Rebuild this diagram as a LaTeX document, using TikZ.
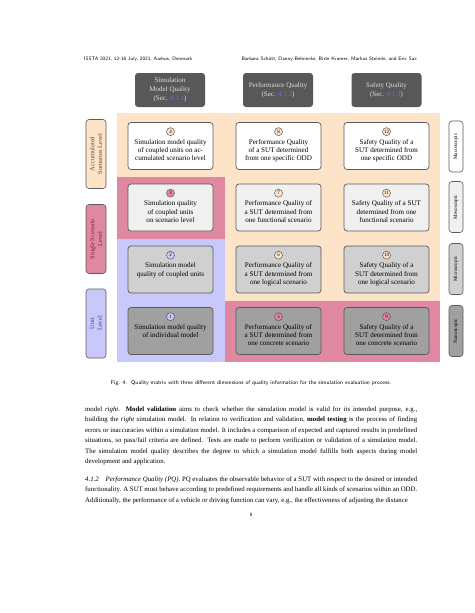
\documentclass[tikz,border=0pt]{standalone}
\usepackage{amsmath, amssymb}
\usepackage{fontspec}
\setmainfont{Liberation Serif}
\usepackage{tikz}

\definecolor{peach}{RGB}{253,228,201}
\definecolor{rose}{RGB}{224,136,162}
\definecolor{lilac}{RGB}{200,200,250}
\definecolor{headgray}{RGB}{88,88,88}
\definecolor{edgegray}{RGB}{90,90,90}
\definecolor{grayA}{RGB}{240,240,240}
\definecolor{grayB}{RGB}{208,208,208}
\definecolor{grayC}{RGB}{160,160,160}
\definecolor{linkpurple}{RGB}{150,95,200}
\definecolor{peachtext}{RGB}{100,70,50}
\definecolor{rosetext}{RGB}{125,30,60}
\definecolor{lilactext}{RGB}{60,60,170}

\begin{document}
\begin{tikzpicture}[x=1pt,y=-1pt,
  every node/.style={inner sep=0pt},
  cell/.style={draw=edgegray, line width=0.7pt, rounded corners=3pt, minimum width=85pt, minimum height=47pt},
  num/.style={circle, draw=edgegray, line width=0.5pt, minimum size=8pt, font=\fontsize{5}{5}\selectfont},
  txt/.style={anchor=north, align=center, font=\fontsize{7.1}{8.3}\selectfont},
  head/.style={fill=headgray, rounded corners=3pt, minimum width=70pt, minimum height=34pt, text=white!88!black, align=center, font=\fontsize{7}{9}\selectfont},
  rowlevel/.style={draw=edgegray, line width=0.6pt, rounded corners=3pt, minimum width=69pt, minimum height=20pt, rotate=90, align=center, font=\fontsize{6.4}{7.8}\selectfont},
  scopic/.style={draw=edgegray, line width=0.6pt, rounded corners=3pt, minimum width=51pt, minimum height=14pt, rotate=90, font=\fontsize{5.1}{6}\selectfont}]
\useasboundingbox (0,0) rectangle (474,613);

% page head
\node[anchor=west, font=\sffamily\fontsize{5}{6}\selectfont] (HL) at (84,59) {ISSTA 2021, 12-16 July, 2021, Aarhus, Denmark};
\node[anchor=east, font=\sffamily\fontsize{5}{6}\selectfont] (HR) at (417,59) {Barbara Schütt, Danny Behnecke, Birte Kramer, Markus Steimle, and Eric Sax};

% background regions
\fill[peach] (117,113) rectangle (440,362);
\fill[rose] (117,177) rectangle (224.5,238.5);
\fill[rose] (224.5,300.5) rectangle (440,362);
\fill[lilac] (117,238.5) rectangle (224.5,362);

% column heads
\node[head] (H1) at (170,90) {Simulation\\Model Quality\\(Sec. \textcolor{linkpurple}{4.1.1})};
\node[head] (H2) at (278,90) {Performance Quality\\(Sec. \textcolor{linkpurple}{4.1.2})};
\node[head] (H3) at (386.5,90) {Safety Quality\\(Sec. \textcolor{linkpurple}{4.1.3})};

% row levels
\node[rowlevel, fill=peach, text=peachtext] (L3) at (96,154) {Accumulated\\Scenarios Level};
\node[rowlevel, fill=rose, text=rosetext] (L2) at (96,239) {Single Scenario\\Level};
\node[rowlevel, fill=lilac, text=lilactext] (L1) at (96,323.5) {Unit\\Level};

\node[scopic, fill=white] (S4) at (456,146.5) {Macroscopic};
\node[scopic, fill=grayA] (S3) at (456,207) {Mesoscopic};
\node[scopic, fill=grayB] (S2) at (456,269) {Microscopic};
\node[scopic, fill=grayC] (S1) at (456,331) {Nanoscopic};

% quality cells
\node[cell, fill=white] (Q4) at (170.5,146) {};
\node[cell, fill=white] (Q8) at (278.5,146) {};
\node[cell, fill=white] (Q12) at (386.5,146) {};
\node[cell, fill=grayA] (Q3) at (170.5,207.5) {};
\node[cell, fill=grayA] (Q7) at (278.5,207.5) {};
\node[cell, fill=grayA] (Q11) at (386.5,207.5) {};
\node[cell, fill=grayB] (Q2) at (170.5,269.5) {};
\node[cell, fill=grayB] (Q6) at (278.5,269.5) {};
\node[cell, fill=grayB] (Q10) at (386.5,269.5) {};
\node[cell, fill=grayC] (Q1) at (170.5,331) {};
\node[cell, fill=grayC] (Q5) at (278.5,331) {};
\node[cell, fill=grayC] (Q9) at (386.5,331) {};

\node[num, fill=peach] (N4) at ([yshift=-9.5pt]Q4.north) {4};
\node[num, fill=peach] (N8) at ([yshift=-9.5pt]Q8.north) {8};
\node[num, fill=peach] (N12) at ([yshift=-9.5pt]Q12.north) {12};
\node[num, fill=rose] (N3) at ([yshift=-9.5pt]Q3.north) {3};
\node[num, fill=peach] (N7) at ([yshift=-9.5pt]Q7.north) {7};
\node[num, fill=peach] (N11) at ([yshift=-9.5pt]Q11.north) {11};
\node[num, fill=lilac] (N2) at ([yshift=-9.5pt]Q2.north) {2};
\node[num, fill=peach] (N6) at ([yshift=-9.5pt]Q6.north) {6};
\node[num, fill=peach] (N10) at ([yshift=-9.5pt]Q10.north) {10};
\node[num, fill=lilac] (N1) at ([yshift=-9.5pt]Q1.north) {1};
\node[num, fill=rose] (N5) at ([yshift=-9.5pt]Q5.north) {5};
\node[num, fill=rose] (N9) at ([yshift=-9.5pt]Q9.north) {9};

\node[txt] (T4) at ([yshift=-17pt]Q4.north) {Simulation model quality\\of coupled units on ac-\\cumulated scenario level};
\node[txt] (T8) at ([yshift=-17pt]Q8.north) {Performance Quality\\of a SUT determined\\from one specific ODD};
\node[txt] (T12) at ([yshift=-17pt]Q12.north) {Safety Quality of a\\SUT determined from\\one specific ODD};
\node[txt] (T3) at ([yshift=-17pt]Q3.north) {Simulation quality\\of coupled units\\on scenario level};
\node[txt] (T7) at ([yshift=-17pt]Q7.north) {Performance Quality of\\a SUT determined from\\one functional scenario};
\node[txt] (T11) at ([yshift=-17pt]Q11.north) {Safety Quality of a SUT\\determined from one\\functional scenario};
\node[txt] (T2) at ([yshift=-17pt]Q2.north) {Simulation model\\quality of coupled units};
\node[txt] (T6) at ([yshift=-17pt]Q6.north) {Performance Quality of\\a SUT determined from\\one logical scenario};
\node[txt] (T10) at ([yshift=-17pt]Q10.north) {Safety Quality of a\\SUT determined from\\one logical scenario};
\node[txt] (T1) at ([yshift=-17pt]Q1.north) {Simulation model quality\\of individual model};
\node[txt] (T5) at ([yshift=-17pt]Q5.north) {Performance Quality of\\a SUT determined from\\one concrete scenario};
\node[txt] (T9) at ([yshift=-17pt]Q9.north) {Safety Quality of a\\SUT determined from\\one concrete scenario};

% caption and running text
\node[font=\sffamily\fontsize{5.5}{6.5}\selectfont] (CAP) at (251,383) {Fig. 4.\ \ Quality matrix with three different dimensions of quality information for the simulation evaluation process.};

\node[anchor=north west, text width=332pt, align=justify, font=\fontsize{6.8}{10.5}\selectfont] (P1) at (85,406.5) {model \textit{right}. \textbf{Model validation} aims to check whether the simulation model is valid for its intended purpose, e.g.,\linebreak
building the \textit{right} simulation model. In relation to verification and validation, \textbf{model testing} is the process of finding\linebreak
errors or inaccuracies within a simulation model. It includes a comparison of expected and captured results in predefined\linebreak
situations, so pass/fail criteria are defined. Tests are made to perform verification or validation of a simulation model.\linebreak
The simulation model quality describes the degree to which a simulation model fulfills both aspects during model\linebreak
development and application.};

\node[anchor=north west, text width=332pt, align=justify, font=\fontsize{6.8}{10.5}\selectfont] (P2) at (85,476.5) {\parfillskip=0pt \textit{4.1.2\quad Performance Quality (PQ).} PQ evaluates the observable behavior of a SUT with respect to the desired or intended\linebreak
functionality. A SUT must behave according to predefined requirements and handle all kinds of scenarios within an ODD.\linebreak
Additionally, the performance of a vehicle or driving function can vary, e.g., the effectiveness of adjusting the distance};

\node[font=\fontsize{5}{6}\selectfont] (PG) at (251,515) {8};

\end{tikzpicture}
\end{document}
